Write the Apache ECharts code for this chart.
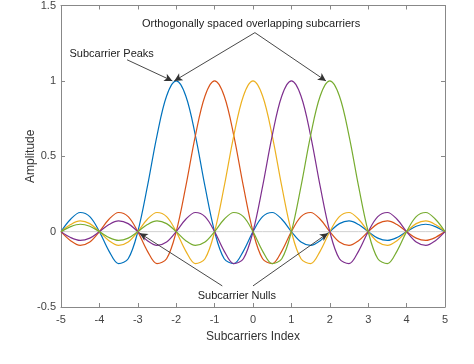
<!DOCTYPE html>
<html><head><meta charset="utf-8">
<script src="https://cdn.jsdelivr.net/npm/echarts@6/dist/echarts.min.js"></script>
<style>html,body{margin:0;padding:0;background:#fff}#c{width:474px;height:364px}</style>
</head><body><div id="c"></div>
<script>
// x positions (subcarrier index)
var xs = [-5,-4.75,-4.5,-4.25,-4,-3.75,-3.5,-3.25,-3,-2.75,-2.5,-2.25,-2,-1.75,-1.5,-1.25,-1,-0.75,-0.5,-0.25,0,0.25,0.5,0.75,1,1.25,1.5,1.75,2,2.25,2.5,2.75,3,3.25,3.5,3.75,4,4.25,4.5,4.75,5];
var sub1 = [0,0.082,0.127,0.100,0,-0.129,-0.212,-0.180,0,0.300,0.637,0.900,1,0.900,0.637,0.300,0,-0.180,-0.212,-0.129,0,0.100,0.127,0.082,0,-0.069,-0.091,-0.060,0,0.053,0.071,0.047,0,-0.043,-0.058,-0.039,0,0.036,0.049,0.033,0];
var sub2 = [0,-0.060,-0.091,-0.069,0,0.082,0.127,0.100,0,-0.129,-0.212,-0.180,0,0.300,0.637,0.900,1,0.900,0.637,0.300,0,-0.180,-0.212,-0.129,0,0.100,0.127,0.082,0,-0.069,-0.091,-0.060,0,0.053,0.071,0.047,0,-0.043,-0.058,-0.039,0];
var sub3 = [0,0.047,0.071,0.053,0,-0.060,-0.091,-0.069,0,0.082,0.127,0.100,0,-0.129,-0.212,-0.180,0,0.300,0.637,0.900,1,0.900,0.637,0.300,0,-0.180,-0.212,-0.129,0,0.100,0.127,0.082,0,-0.069,-0.091,-0.060,0,0.053,0.071,0.047,0];
var sub4 = [0,-0.039,-0.058,-0.043,0,0.047,0.071,0.053,0,-0.060,-0.091,-0.069,0,0.082,0.127,0.100,0,-0.129,-0.212,-0.180,0,0.300,0.637,0.900,1,0.900,0.637,0.300,0,-0.180,-0.212,-0.129,0,0.100,0.127,0.082,0,-0.069,-0.091,-0.060,0];
var sub5 = [0,0.033,0.049,0.036,0,-0.039,-0.058,-0.043,0,0.047,0.071,0.053,0,-0.060,-0.091,-0.069,0,0.082,0.127,0.100,0,-0.129,-0.212,-0.180,0,0.300,0.637,0.900,1,0.900,0.637,0.300,0,-0.180,-0.212,-0.129,0,0.100,0.127,0.082,0];
var xTicks = [-5,-4,-3,-2,-1,0,1,2,3,4,5];
var yTicks = [-0.5,0,0.5,1,1.5];
var colors = ['#0072BD','#D95319','#EDB120','#7E2F8E','#77AC30'];
var allSubs = [sub1,sub2,sub3,sub4,sub5];

var FONT = "'Liberation Sans', Arial, sans-serif";
var chart = echarts.init(document.getElementById('c'), null, {renderer:'canvas'});

function pairs(ys){ return xs.map(function(x,i){return [x, ys[i]];}); }

var series = [{
  type:'line', data: pairs(xs.map(function(){return 0;})), symbol:'none', silent:true,
  lineStyle:{color:'#d0d0d0', width:1}, z:1
}];
allSubs.forEach(function(s,i){
  series.push({type:'line', data:pairs(s), smooth:0.35, symbol:'none', lineStyle:{color:colors[i], width:1.2}, z:2});
});
var arrowStyle = {color:'#333', width:0.9, type:'solid'};
series.push({
  type:'line', data:[], z:5,
  markLine:{
    silent:true, symbol:['none','arrow'], symbolSize:[6,8],
    lineStyle:arrowStyle, label:{show:false},
    data:[
      [{coord:[0.05,1.32]},{coord:[-2.05,1.0]}],
      [{coord:[0.05,1.32]},{coord:[1.9,1.0]}],
      [{coord:[-3.28,1.14]},{coord:[-2.1,1.0]}],
      [{coord:[-0.8,-0.36]},{coord:[-2.95,-0.01]}],
      [{coord:[0.0,-0.36]},{coord:[1.95,-0.01]}]
    ]
  },
  markPoint:{
    silent:true, symbol:'rect', symbolSize:0,
    label:{show:true, color:'#222', fontFamily:FONT, fontSize:11, position:'inside'},
    data:[
      {coord:[-0.05,1.38], value:'Orthogonally spaced overlapping subcarriers', label:{formatter:'Orthogonally spaced overlapping subcarriers'}},
      {coord:[-3.68,1.18], value:'Subcarrier Peaks', label:{formatter:'Subcarrier Peaks'}},
      {coord:[-0.42,-0.43], value:'Subcarrier Nulls', label:{formatter:'Subcarrier Nulls'}}
    ]
  }
});

var axLine = {show:true, onZero:false, lineStyle:{color:'#888', width:1}};
var axTick = {show:true, inside:true, length:4, lineStyle:{color:'#888'}};
chart.setOption({
  animation:false,
  backgroundColor:'#fff',
  grid:{left:61, right:29, top:5, bottom:57, containLabel:false},
  xAxis:[{
    type:'value', min:xTicks[0], max:xTicks[xTicks.length-1], interval:1, position:'bottom',
    axisLine:axLine, axisTick:axTick, splitLine:{show:false},
    axisLabel:{color:'#444', fontFamily:FONT, fontSize:11, margin:7},
    name:'Subcarriers Index', nameLocation:'middle', nameGap:24, nameMoveOverlap:false,
    nameTextStyle:{color:'#333', fontFamily:FONT, fontSize:12}
  },{
    type:'value', min:xTicks[0], max:xTicks[xTicks.length-1], interval:1, position:'top',
    axisLine:axLine, axisTick:axTick, splitLine:{show:false}, axisLabel:{show:false}
  }],
  yAxis:[{
    type:'value', min:yTicks[0], max:yTicks[yTicks.length-1], interval:0.5, position:'left',
    axisLine:axLine, axisTick:axTick, splitLine:{show:false},
    axisLabel:{color:'#444', fontFamily:FONT, fontSize:11, margin:5},
    name:'Amplitude', nameLocation:'middle', nameGap:24, nameRotate:90, nameMoveOverlap:false,
    nameTextStyle:{color:'#333', fontFamily:FONT, fontSize:12}
  },{
    type:'value', min:yTicks[0], max:yTicks[yTicks.length-1], interval:0.5, position:'right',
    axisLine:axLine, axisTick:axTick, splitLine:{show:false}, axisLabel:{show:false}
  }],
  series:series
});
</script></body></html>
